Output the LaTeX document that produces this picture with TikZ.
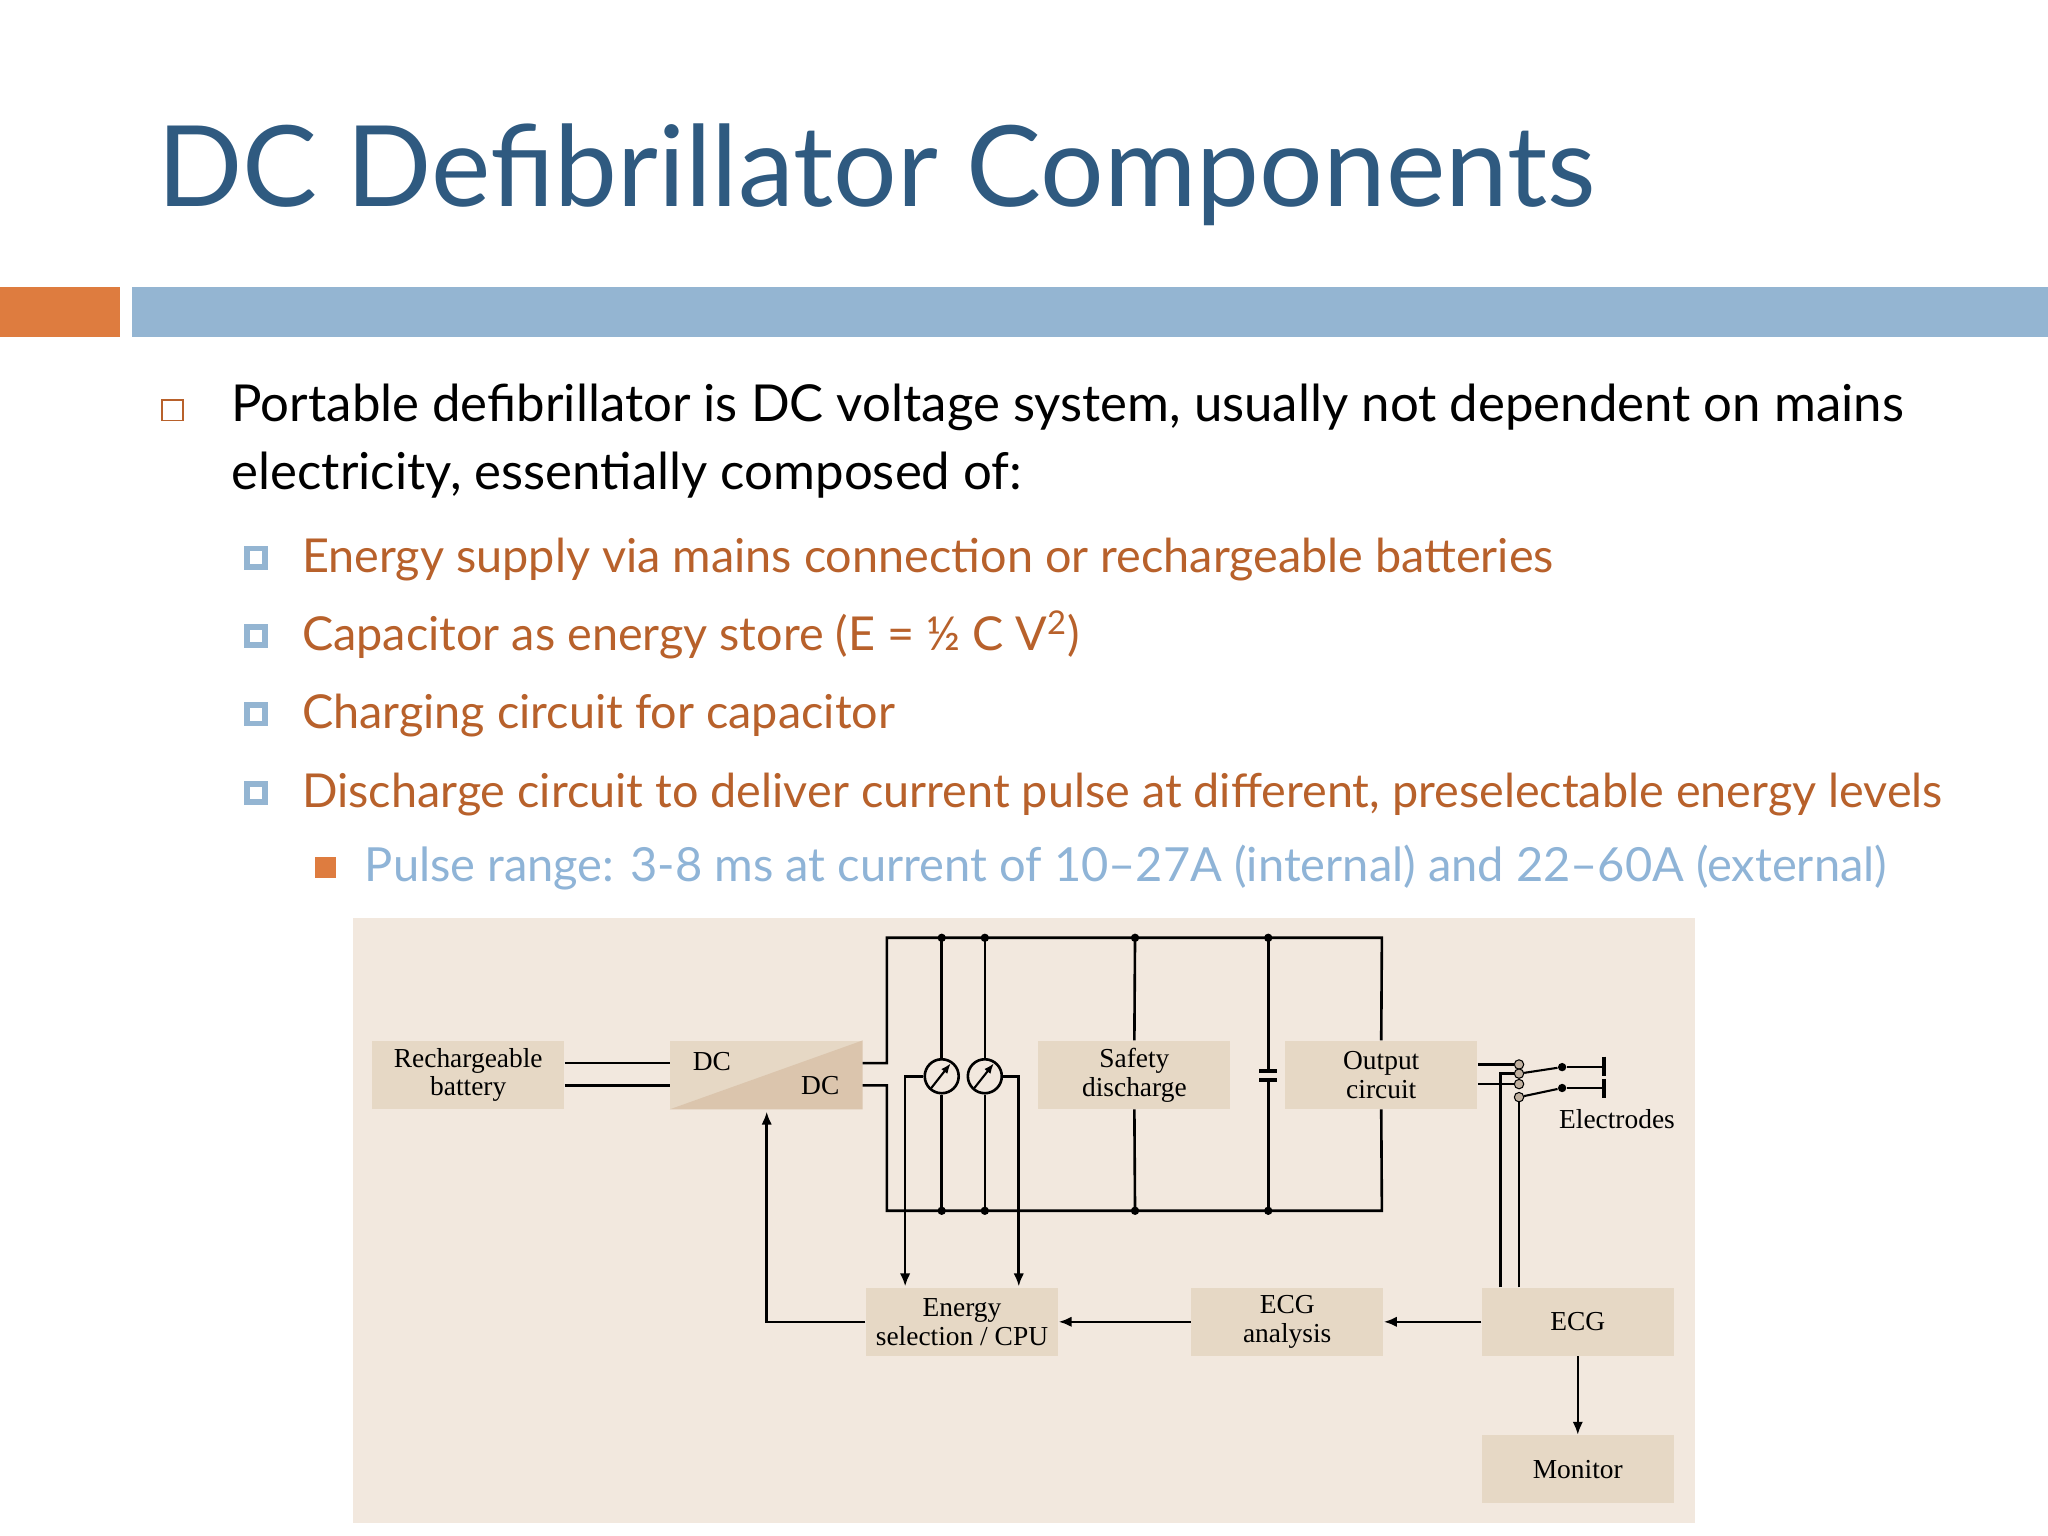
\documentclass[tikz,border=0pt]{standalone}
\usepackage{fontspec}
\setmainfont{Lato}
\newfontfamily\tms{Liberation Serif}
\usetikzlibrary{arrows.meta}
\definecolor{ttl}{HTML}{2F5A80}
\definecolor{org}{HTML}{DE7C3F}
\definecolor{bar}{HTML}{94B5D2}
\definecolor{subt}{HTML}{B8612B}
\definecolor{lb}{HTML}{8FB4D7}
\definecolor{dbg}{HTML}{F2E8DE}
\definecolor{bx}{HTML}{E6D8C5}
\definecolor{bxd}{HTML}{DBC5AD}
\tikzset{
 blk/.style={fill=bx,minimum width=73.5pt,minimum height=26pt,inner sep=0pt,align=center,font=\tms\fontsize{10.5}{11}\selectfont},
 w/.style={line width=1pt},
 arr/.style={w,-{Latex[length=5pt,width=4pt]}},
 dotn/.style={circle,fill=black,inner sep=0pt,minimum size=3.2pt},
 term/.style={circle,draw=black,fill=bxd!70!gray,line width=0.4pt,inner sep=0pt,minimum size=3.6pt},
 subb/.style={draw=bar,fill=white,line width=2.2pt,minimum size=7pt,inner sep=0pt},
}
\begin{document}
\begin{tikzpicture}[x=0.5pt,y=-0.5pt]
\useasboundingbox (0,0) rectangle (1568,1176);
\fill[white] (0,0) rectangle (1568,1176);
\node[anchor=base west,text=ttl,font=\fontsize{43}{50}\selectfont,inner sep=0pt] (title) at (120,158) {DC Defibrillator Components};
\fill[org] (0,220) rectangle (92,258);
\fill[bar] (101,220) rectangle (1568,258);
% bullets
\node[draw=subt,line width=0.7pt,minimum size=8pt,inner sep=0pt] (b0) at (132,314) {};
\node[anchor=base west,inner sep=0pt,font=\fontsize{19.5}{25}\selectfont] (t0) at (177,323) {Portable defibrillator is DC voltage system, usually not dependent on mains};
\node[anchor=base west,inner sep=0pt,font=\fontsize{19.5}{25}\selectfont] (t0b) at (177,375) {electricity, essentially composed of:};
\foreach \y/\t [count=\i] in {427/{Energy supply via mains connection or rechargeable batteries},487/{Capacitor as energy store (E = ½ C V\textsuperscript{2})},547/{Charging circuit for capacitor},607/{Discharge circuit to deliver current pulse at different, preselectable energy levels}}{
 \node[subb] (sb\i) at (196,\y) {};
 \node[anchor=base west,inner sep=0pt,text=subt,font=\fontsize{17.9}{20}\selectfont] (st\i) at (231,\y+11) {\t};
}
\node[fill=org,minimum size=8pt,inner sep=0pt] (ssb) at (249,664) {};
\node[anchor=base west,inner sep=0pt,text=lb,font=\fontsize{18}{20}\selectfont] (sst) at (279,675) {Pulse range: 3-8 ms at current of 10–27A (internal) and 22–60A (external)};
% diagram
\fill[dbg] (270,703) rectangle (1298,1166);
\node[blk] (bat) at (358.5,823) {Rechargeable\\battery};
\node[blk] (dcdc) at (586.5,823) {};
\fill[bxd] (dcdc.south west) -- (dcdc.north east) -- (dcdc.south east) -- cycle;
\node[font=\tms\fontsize{10.5}{11}\selectfont,inner sep=0pt] (dc1) at (545,813) {DC};
\node[font=\tms\fontsize{10.5}{11}\selectfont,inner sep=0pt] (dc2) at (628,831) {DC};
\node[blk] (safe) at (868.5,823) {Safety\\discharge};
\node[blk] (out) at (1057.5,823) {Output\\circuit};
\node[blk] (cpu) at (736.5,1012) {Energy\\selection / CPU};
\node[blk] (ana) at (985.5,1012) {ECG\\analysis};
\node[blk] (ecg) at (1208,1012) {ECG};
\node[blk] (mon) at (1208,1125) {Monitor};
% battery to DC
\draw[w] (bat.east |- 0,814) -- (dcdc.west |- 0,814);
\draw[w] (bat.east |- 0,831) -- (dcdc.west |- 0,831);
% rails
\coordinate (tl) at (679,718); \coordinate (bl) at (679,927);
\coordinate (tr) at (1058,718); \coordinate (br) at (1058,927);
\draw[w] (dcdc.east |- 0,814) -- (679,814) -- (tl) -- (tr) -- (out.north);
\draw[w] (dcdc.east |- 0,831) -- (679,831) -- (bl) -- (br) -- (out.south);
% meters
\foreach \x/\n in {721/ma,754/mb}{
 \node[circle,draw,line width=1pt,minimum size=13pt,inner sep=0pt,fill=dbg] (\n) at (\x,824) {};
 \draw[w] (\x,718) -- (\n.north); \draw[w] (\n.south) -- (\x,927);
 \draw[line width=0.8pt,-{Latex[length=4pt,width=3pt]}] (\x-8,833) -- (\x+7,814);
 \node[dotn] at (\x,718) {}; \node[dotn] at (\x,927) {};
}
\draw[arr] (ma.west) -- (693,824) -- (693,985);
\draw[arr] (mb.east) -- (780,824) -- (780,985);
% safety
\draw[w] (869,718) -- (safe.north); \draw[w] (safe.south) -- (869,927);
\node[dotn] at (869,718) {}; \node[dotn] at (869,927) {};
% capacitor
\draw[w] (971,718) -- (971,820); \draw[w] (971,827) -- (971,927);
\draw[line width=1.3pt] (964,820) -- (978,820); \draw[line width=1.3pt] (964,827) -- (978,827);
\node[dotn] at (971,718) {}; \node[dotn] at (971,927) {};
% output terminals
\node[term] (t1) at (1163,815) {};
\node[term] (t2) at (1163,822) {};
\node[term] (t3) at (1163,830) {};
\node[term] (t4) at (1163,840) {};
\draw[w] (out.east |- t1) -- (t1);
\draw[w] (out.east |- t3) -- (t3);
\draw[w] (ecg.north -| 1149,0) -- (1149,822) -- (t2);
\draw[w] (ecg.north -| 1163,0) -- (t4);
\node[dotn] (s1) at (1196,817) {}; \node[dotn] (s2) at (1196,833) {};
\draw[line width=0.8pt] (t2) -- (s1); \draw[line width=0.8pt] (t4) -- (s2);
\draw[w] (s1) -- (1228,817); \draw[w] (s2) -- (1228,833);
\draw[line width=1.2pt] (1228,809) -- (1228,824); \draw[line width=1.2pt] (1228,826) -- (1228,841);
\node[font=\tms\fontsize{10.5}{11}\selectfont,inner sep=0pt] (el) at (1238,857) {Electrodes};
% lower arrows
\draw[arr] (cpu.west) -- (587,1012) -- (587,851);
\draw[arr] (ana.west) -- (cpu.east);
\draw[arr] (ecg.west) -- (ana.east);
\draw[arr] (ecg.south) -- (mon.north);
\end{tikzpicture}
\end{document}
